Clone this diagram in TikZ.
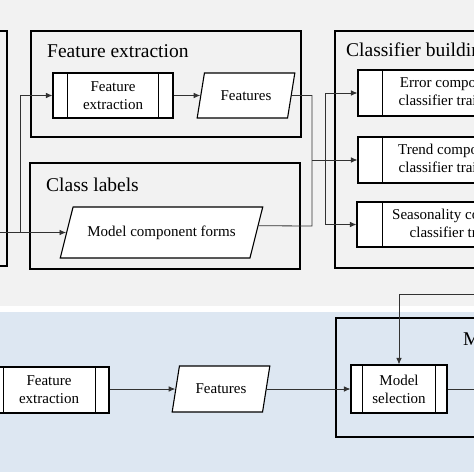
\documentclass[tikz,border=0pt]{standalone}
\usepackage{fontspec}
\setmainfont{Liberation Serif}
\usetikzlibrary{shapes.geometric,arrows.meta,calc}
\definecolor{bggray}{RGB}{242,242,242}
\definecolor{bgblue}{RGB}{221,231,242}
\definecolor{conn}{RGB}{50,50,50}
\newcommand{\titlefont}{\fontsize{19.5}{22}\selectfont}
\newcommand{\bodyfont}{\fontsize{15}{18}\selectfont}
\tikzset{
  grp/.style={draw=black, line width=1.3pt},
  title/.style={font=\titlefont, inner sep=0pt, anchor=base west},
  proc/.style={draw=black, line width=1.1pt, fill=white, inner sep=0pt, align=center, font=\bodyfont},
  para/.style={trapezium, trapezium stretches=true, draw=black, line width=1.1pt, fill=white, inner sep=0pt, font=\bodyfont},
  bar/.style={draw=black, line width=1.1pt},
  conn/.style={draw=conn, line width=0.8pt},
  arr/.style={conn, -{Latex[length=6.5pt,width=5.5pt]}}
}
\begin{document}
\begin{tikzpicture}[x=1pt,y=-1pt]
\useasboundingbox (0,0) rectangle (474,474);
\clip (0,0) rectangle (474,474);
% backgrounds
\fill[bggray] (0,0) rectangle (474,306);
\fill[bgblue] (0,312) rectangle (474,472);
% group boxes
\draw[grp] (-10,31) rectangle (7,266);
\draw[grp] (31,31) rectangle (301,137);
\draw[grp] (30,163) rectangle (300,269);
\draw[grp] (335,31) rectangle (500,268);
\draw[grp] (336,318) rectangle (500,437);
% titles
\node[title] (tfe) at (47,57) {Feature extraction};
\node[title] (tcl) at (46,191) {Class labels};
\node[title] (tcb) at (346,56) {Classifier building};
\node[title] (tms) at (463,345) {M};
% top process and data
\node[proc, minimum width=120pt, minimum height=45pt] (pfe) at (113,95.5) {Feature\\extraction};
\draw[bar] ([xshift=15pt]pfe.north west) -- ([xshift=15pt]pfe.south west);
\draw[bar] ([xshift=-15pt]pfe.north east) -- ([xshift=-15pt]pfe.south east);
\node[para, minimum width=98pt, minimum height=45pt, trapezium left angle=66, trapezium right angle=114] (feat) at (246,95.5) {Features};
\node[para, minimum width=203pt, minimum height=51pt, trapezium left angle=52, trapezium right angle=128] (mcf) at (161.5,232.5) {Model component forms};
% classifiers
\node[proc, minimum width=186pt, minimum height=46pt] (err) at (451,93) {Error component\\classifier training};
\draw[bar] ([xshift=25pt]err.north west) -- ([xshift=25pt]err.south west);
\node[proc, minimum width=186pt, minimum height=46pt] (trd) at (451,160) {Trend component\\classifier training};
\draw[bar] ([xshift=25pt]trd.north west) -- ([xshift=25pt]trd.south west);
\node[proc, minimum width=210pt, minimum height=45pt] (sea) at (462,224.5) {Seasonality component\\classifier training};
\draw[bar] ([xshift=26pt]sea.north west) -- ([xshift=26pt]sea.south west);
% bottom flow
\node[proc, minimum width=120pt, minimum height=46pt] (bfe) at (49,390) {Feature\\extraction};
\draw[bar] ([xshift=15pt]bfe.north west) -- ([xshift=15pt]bfe.south west);
\draw[bar] ([xshift=-14pt]bfe.north east) -- ([xshift=-14pt]bfe.south east);
\node[para, minimum width=98pt, minimum height=46pt, trapezium left angle=66, trapezium right angle=114] (bfeat) at (221,389) {Features};
\node[proc, minimum width=96pt, minimum height=48pt] (msel) at (399,389) {Model\\selection};
\draw[bar] ([xshift=12pt]msel.north west) -- ([xshift=12pt]msel.south west);
\draw[bar] ([xshift=-12pt]msel.north east) -- ([xshift=-12pt]msel.south east);
% connector coordinates
\coordinate (inL) at (0,232.5);
\coordinate (br) at (20,232.5);
\coordinate (busA) at (312,95.5);
\coordinate (busB) at (312,226);
\coordinate (busC) at (325,93);
\coordinate (busD) at (325,224.5);
\coordinate (mcfout) at ($(mcf.top right corner)!0.37!(mcf.bottom right corner)$);
\coordinate (topR) at (474,294);
\coordinate (outR) at (474,389);
% top connectors
\draw[arr] (inL) -- (mcf.left side);
\draw[arr] (br) |- (pfe.west);
\draw[arr] (pfe.east) -- (feat.left side);
\draw[conn] (feat.right side) -- (busA) -- (busB) -- (mcfout);
\draw[arr] (busB |- trd.west) -- (trd.west);
\draw[conn] (busC) -- (busD);
\draw[arr] (busC) -- (err.west);
\draw[arr] (busD) -- (sea.west);
% bottom connectors
\draw[arr] (bfe.east |- bfeat.left side) -- (bfeat.left side);
\draw[arr] (bfeat.right side) -- (msel.west);
\draw[arr] (topR) -| (msel.north);
\draw[conn] (msel.east) -- (outR);
\end{tikzpicture}
\end{document}
